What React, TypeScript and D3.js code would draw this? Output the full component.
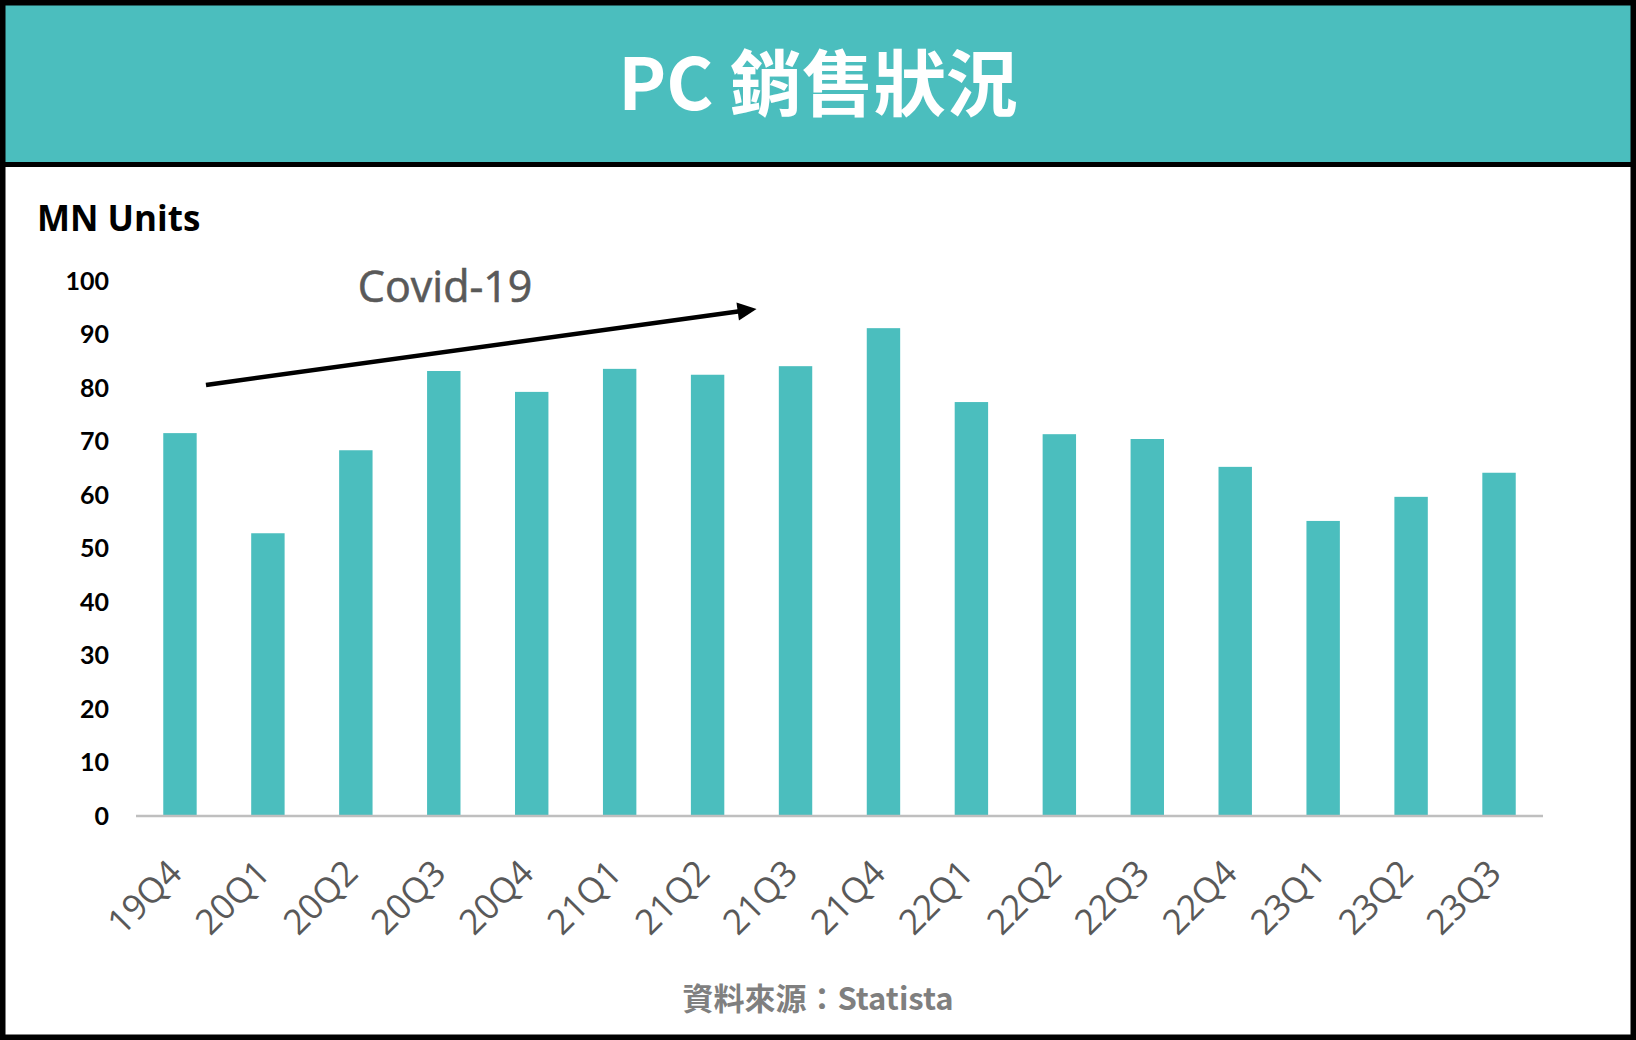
import { scaleBand, scaleLinear } from "d3";

const categories = [
    "19Q4", "20Q1", "20Q2", "20Q3", "20Q4", "21Q1", "21Q2", "21Q3",
    "21Q4", "22Q1", "22Q2", "22Q3", "22Q4", "23Q1", "23Q2", "23Q3"
];
const units = [71.5, 52.8, 68.3, 83.1, 79.2, 83.5, 82.4, 84.0, 91.1, 77.3, 71.3, 70.4, 65.2, 55.1, 59.6, 64.1];
const yTicks = [0, 10, 20, 30, 40, 50, 60, 70, 80, 90, 100];

const title = "PC 銷售狀況";
const yTitle = "MN Units";
const note = "Covid-19";
const source = "資料來源：Statista";
// arrow goes from just after 19Q4 to just before 21Q3
const arrowFrom = { cat: "19Q4", value: 80.5 };
const arrowTo = { cat: "21Q3", value: 94.7 };

const W = 1636;
const H = 1040;
const TEAL = "#4BBEBE";
const CJK = "'Noto Sans CJK TC', 'Noto Sans', sans-serif";
const SANS = "'Open Sans', 'Noto Sans', sans-serif";

export default function App() {
    const plot = { left: 136, right: 1543, top: 280.5, bottom: 816 };

    const x = scaleBand<string>()
        .domain(categories)
        .range([plot.left, plot.right])
        .paddingInner(0.62)
        .paddingOuter(0.31);
    const y = scaleLinear().domain([0, 100]).range([plot.bottom, plot.top]);
    const center = (c: string) => (x(c) ?? 0) + x.bandwidth() / 2;

    // arrow geometry
    const x1 = center(arrowFrom.cat) + 26;
    const y1 = y(arrowFrom.value);
    const x2 = center(arrowTo.cat) - 39;
    const y2 = y(arrowTo.value);
    const len = Math.hypot(x2 - x1, y2 - y1);
    const ux = (x2 - x1) / len;
    const uy = (y2 - y1) / len;
    const headLen = 19;
    const headW = 9;
    const bx = x2 - ux * headLen;
    const by = y2 - uy * headLen;
    const head = `M${x2},${y2} L${bx - uy * headW},${by + ux * headW} L${bx + uy * headW},${by - ux * headW} Z`;

    return (
        <div style={{ position: "absolute", left: 0, top: 0 }}>
            <svg width={W} height={H} style={{ display: "block" }}>
                <rect x={0} y={0} width={W} height={H} fill="#fff" />
                <rect x={0} y={0} width={W} height={165} fill={TEAL} />
                <line x1={0} x2={W} y1={164.5} y2={164.5} stroke="#000" strokeWidth={5} />
                <rect x={2.75} y={2.75} width={W - 5.5} height={H - 5.5} fill="none" stroke="#000" strokeWidth={5.5} />

                <text x={W / 2} y={110} textAnchor="middle" fill="#fff" fontFamily={CJK}
                    fontWeight={700} fontSize={72}>{title}</text>

                <text x={37} y={231} fill="#000" fontFamily={SANS} fontWeight={700} fontSize={35}>{yTitle}</text>

                {yTicks.map(t => (
                    <text key={`yt-${t}`} x={109} y={y(t)} dy="0.36em" textAnchor="end"
                        fontFamily="Lato, 'Open Sans', sans-serif" fontWeight={700} fontSize={25} fill="#000">
                        {t}
                    </text>
                ))}

                {categories.map((c, i) => (
                    <rect key={`bar-${c}`} x={x(c)} y={y(units[i])} width={x.bandwidth()}
                        height={plot.bottom - y(units[i])} fill={TEAL} />
                ))}

                <line x1={plot.left} x2={plot.right} y1={plot.bottom} y2={plot.bottom}
                    stroke="#BFBFBF" strokeWidth={2.5} />

                {categories.map(c => {
                    const tx = center(c) + 4;
                    const ty = plot.bottom + 59;
                    return (
                        <text key={`xl-${c}`} x={tx} y={ty} textAnchor="end"
                            transform={`rotate(-45, ${tx}, ${ty})`}
                            fontFamily={SANS} fontSize={35} fill="#595959">
                            {c}
                        </text>
                    );
                })}

                <line x1={x1} y1={y1} x2={bx + ux * 2} y2={by + uy * 2} stroke="#000" strokeWidth={4.5} />
                <path d={head} fill="#000" />
                <text x={center("20Q2") + 2} y={302} fontFamily={SANS} fontSize={43} fill="#595959"
                    stroke="#595959" strokeWidth={0.6}>{note}</text>

                <text x={W / 2} y={1010} textAnchor="middle" fontFamily={CJK} fontWeight={700}
                    fontSize={31} fill="#7F7F7F">{source}</text>
            </svg>
        </div>
    );
}
